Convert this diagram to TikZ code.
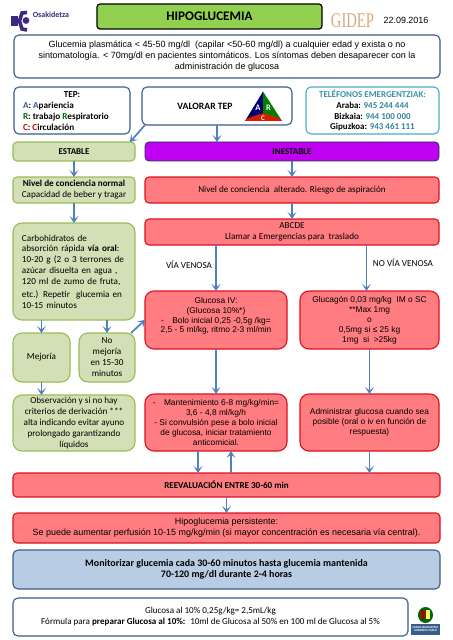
\documentclass[tikz,border=0pt]{standalone}
\usepackage{fontspec}
\setmainfont{Carlito}
\newfontfamily\arialfont{Liberation Sans}
\newfontfamily\timesfont{Liberation Serif}
\usetikzlibrary{arrows.meta,positioning,calc}
\definecolor{bluearrow}{HTML}{4F81BD}
\definecolor{navyline}{HTML}{385D8A}
\definecolor{leaf}{HTML}{D3DFB4}
\definecolor{leafline}{HTML}{9BBB59}
\definecolor{alert}{HTML}{FF7C80}
\definecolor{alertline}{HTML}{E01020}
\definecolor{tealline}{HTML}{4BACC6}
\definecolor{tealtext}{HTML}{31859C}
\definecolor{skyfill}{HTML}{B8CCE4}
\definecolor{osaki}{HTML}{3B2A7E}
\definecolor{titlegreen}{HTML}{92D050}
\definecolor{gidepcolor}{HTML}{D9A878}
\definecolor{purplefill}{HTML}{C000F0}
\begin{document}
\begin{tikzpicture}[x=1bp, y=-1bp, every node/.style={font=\fontsize{9.2}{11}\selectfont, text=black},
  boxsize/.style 2 args={minimum width=#1bp, minimum height=#2bp, inner sep=1bp, outer sep=0pt, align=center},
  whitebox/.style={draw=navyline, line width=1.1bp, rounded corners=5bp, fill=white},
  leafbox/.style={draw=leafline, line width=1.1bp, rounded corners=4bp, fill=leaf},
  alertbox/.style={draw=alertline, line width=1.1bp, rounded corners=4bp, fill=alert},
  roundbig/.style={rounded corners=9bp},
  arial/.style={font=\arialfont\fontsize{8.4}{10}\selectfont},
  arrow/.style={-{Stealth[length=7bp, width=9bp, inset=3.5bp]}, draw=bluearrow, line width=1.7bp}]
\useasboundingbox (0,0) rectangle (453,640);
\node[boxsize={225}{25}, draw=black, line width=1.2bp, rounded corners=3bp, fill=titlegreen, font=\bfseries\fontsize{13.2}{15}\selectfont] (title) at (209.5,16.5) {HIPOGLUCEMIA};
\node[font=\bfseries\fontsize{8}{9}\selectfont, text=osaki] (osakidetza) at (51,15) {Osakidetza};
\fill[osaki] (11,16.5) rectangle (18,26.5);
\draw[osaki, line width=3.6bp] (27,12.5) -- (22,13) -- (19.5,21) -- (22,29) -- (27,30);
\fill[osaki] (26,20.5) circle (3.4);
\node[font=\timesfont\fontsize{21}{21}\selectfont, text=gidepcolor] (gidep) at (352.5,21) {\scalebox{.7}[1]{GIDEP}};
\node[font=\arialfont\fontsize{9}{10}\selectfont] (fecha) at (406,20) {22.09.2016};
\node[whitebox, boxsize={426}{43}, font=\arialfont\fontsize{9.05}{11}\selectfont] (glucemia) at (227,56.5) {Glucemia plasmática < 45-50 mg/dl \ (capilar <50-60 mg/dl) a cualquier edad y exista o no\\sintomatología. < 70mg/dl en pacientes sintomáticos. Los síntomas deben desaparecer con la\\administración de glucosa};
\node[whitebox, boxsize={116}{47}] (tep) at (72,110.5) {};
\node (teptitle) at (72,94.5) {\bfseries TEP:};
\node[anchor=west, align=left] (teplist) at (19.5,116.5) {\bfseries\textcolor{navyline}{A}: \textcolor{navyline}{A}pariencia\\\bfseries\textcolor{green!40!black}{R}: trabajo \textcolor{green!40!black}{R}espiratorio\\\bfseries\textcolor{red!80!black}{C}: \textcolor{red!80!black}{C}irculación};
\node[whitebox, boxsize={150}{38}] (valorar) at (217,106) {};
\node[font=\bfseries\fontsize{9.7}{11}\selectfont] (valorartxt) at (205,106.5) {VALORAR TEP};
\fill[blue!45!black] (263,91.5) -- (245,121) -- (263,121) -- cycle;
\fill[green!50!black] (263,91.5) -- (282,121) -- (263,121) -- cycle;
\fill[red!75!orange!85!black] (263,113) -- (247,118.5) -- (245,121) -- (282,121) -- (280,118.5) -- cycle;
\node[font=\bfseries\fontsize{8.5}{9}\selectfont, text=white] (letraa) at (258,108) {A};
\node[font=\bfseries\fontsize{8.5}{9}\selectfont, text=white] (letrar) at (268.5,108) {R};
\node[font=\bfseries\fontsize{7}{8}\selectfont, text=white] (letrac) at (263,118) {C};
\node[whitebox, draw=tealline, boxsize={133}{47}, font=\fontsize{9}{11}\selectfont] (telefonos) at (372.5,110.5) {\bfseries\textcolor{tealtext!70!tealline}{TELÉFONOS EMERGENTZIAK:}\\\bfseries Araba: \textcolor{tealtext}{945 244 444}\\\bfseries Bizkaia: \textcolor{tealtext}{944 100 000}\\\bfseries Gipuzkoa: \textcolor{tealtext}{943 461 111}};
\node[leafbox, boxsize={122}{19}, font=\bfseries\fontsize{9}{10}\selectfont] (estable) at (74,151.5) {ESTABLE};
\node[leafbox, boxsize={122}{26}, below=16bp of estable] (normal) {\textbf{Nivel de conciencia normal}\\Capacidad de beber y tragar};
\node[leafbox, roundbig, boxsize={122}{97}, below=20bp of normal, align=left, text width=104bp] (carbo) {Carbohidratos de\\absorción rápida \textbf{vía oral}:\\10-20 g (2 o 3 terrones de\\azúcar disuelta en agua ,\\120 ml de zumo de fruta,\\[1.5bp]etc.) Repetir \ glucemia en\\10-15 minutos};
\node[leafbox, roundbig, boxsize={57}{49}, anchor=north west] (mejoria) at (13,333) {Mejoría};
\node[leafbox, roundbig, boxsize={56}{49}, anchor=north west] (nomejoria) at (79,333) {No\\mejoría\\en 15-30\\minutos};
\node[leafbox, roundbig, boxsize={122}{56}, anchor=north west] (observacion) at (13,395) {Observación y si no hay\\criterios de derivación ***\\alta indicando evitar ayuno\\prolongado garantizando\\líquidos};
\node[draw=navyline!60!black, line width=0.8bp, rounded corners=4bp, fill=purplefill, boxsize={294}{19}, font=\bfseries\fontsize{9}{10}\selectfont] (inestable) at (292,151.5) {\raisebox{-1.5bp}{INESTABLE}};
\node[alertbox, boxsize={294}{26}, below=16bp of inestable] (alterado) {Nivel de conciencia \ alterado. Riesgo de aspiración};
\node[alertbox, boxsize={294}{26}, below=16bp of alterado] (abcde) {ABCDE\\Llamar a Emergencias para \ traslado};
\node (viavenosa) at (189,265) {VÍA VENOSA};
\node (noviavenosa) at (403,263) {NO VÍA VENOSA};
\node[alertbox, roundbig, boxsize={142}{58}, anchor=north west, arial] (glucosaiv) at (145,291) {Glucosa IV:\\(Glucosa 10\%*)\\-\quad Bolo inicial 0,25 -0,5g /kg=\\2,5 - 5 ml/kg, ritmo 2-3 ml/min\\\mbox{}};
\node[alertbox, roundbig, boxsize={139}{58}, anchor=north west, arial] (glucagon) at (300,291) {Glucagón 0,03 mg/kg \ IM o SC\\**Max 1mg\\o\\0,5mg si ≤ 25 kg\\1mg \ si \ >25kg};
\node[alertbox, roundbig, boxsize={142}{57}, anchor=north west, arial] (mantenimiento) at (145,394) {-\quad Mantenimiento 6-8 mg/kg/min=\\3,6 - 4,8 ml/kg/h\\- Si convulsión pese a bolo inicial\\de glucosa, iniciar tratamiento\\anticomicial.};
\node[alertbox, roundbig, boxsize={139}{57}, anchor=north west, arial] (administrar) at (300,394) {Administrar glucosa cuando sea\\posible (oral o iv en función de\\respuesta)};
\node[alertbox, boxsize={427}{24}, anchor=north west, font=\bfseries\fontsize{9.1}{11}\selectfont] (reevaluacion) at (13,473) {REEVALUACIÓN ENTRE 30-60 min};
\node[alertbox, boxsize={427}{30}, below=16bp of reevaluacion, font=\arialfont\fontsize{9}{11}\selectfont] (persistente) {Hipoglucemia persistente:\\Se puede aumentar perfusión 10-15 mg/kg/min (si mayor concentración es necesaria vía central).};
\node[whitebox, fill=skyfill, boxsize={427}{39}, below=7bp of persistente, font=\bfseries\fontsize{10}{11}\selectfont] (monitorizar) {Monitorizar glucemia cada 30-60 minutos hasta glucemia mantenida\\70-120 mg/dl durante 2-4 horas};
\node[whitebox, boxsize={395}{38}, anchor=north west, font=\fontsize{9.1}{11}\selectfont] (formula) at (13,598) {Glucosa al 10\% 0,25g/kg= 2,5mL/kg\\Fórmula para \textbf{preparar Glucosa al 10\%:} \ 10ml de Glucosa al 50\% en 100 ml de Glucosa al 5\%};
\fill[green!40!black] (425.5,615) ellipse (7.5 and 8);
\fill[red!70!black] (421,610) rectangle (425,619);
\fill[yellow!60!white] (426,610) rectangle (430,619);
\node[fill=navyline, boxsize={29}{11}, font=\bfseries\fontsize{3}{3.6}\selectfont, text=white] (gobierno) at (425.5,629) {EUSKO JAURLARITZA\\GOBIERNO VASCO};
\draw[arrow] ($(valorar.south west)+(3,0)$) -- ($(estable.north east)+(-5,0)$);
\draw[arrow] (valorar.south) -- (valorar.south |- inestable.north);
\draw[arrow] (estable) -- (normal);
\draw[arrow] (normal) -- (carbo);
\draw[arrow] (carbo.south -| mejoria.north) -- (mejoria.north);
\draw[arrow] (carbo.south -| nomejoria.north) -- (nomejoria.north);
\draw[arrow] ($(nomejoria.north east)+(-4,0)$) -- ($(glucosaiv.south west)+(0,-29)$);
\draw[arrow] (mejoria.south) -- (mejoria.south |- observacion.north);
\draw[arrow] (inestable) -- (alterado);
\draw[arrow] (alterado) -- (abcde);
\draw[arrow] (abcde.south -| glucosaiv.north) -- (glucosaiv.north);
\draw[arrow] ($(abcde.south -| glucagon.north)+(-3,0)$) -- ($(glucagon.north)+(-3,0)$);
\draw[arrow] (glucosaiv) -- (mantenimiento);
\draw[arrow] (glucagon) -- (administrar);
\draw[arrow] ($(mantenimiento.south)+(-18,0)$) -- ($(mantenimiento.south |- reevaluacion.north)+(-18,0)$);
\draw[arrow] ($(mantenimiento.south |- reevaluacion.north)+(15,0)$) -- ($(mantenimiento.south)+(15,0)$);
\draw[arrow] (administrar.south) -- (administrar.south |- reevaluacion.north);
\draw[arrow] (reevaluacion) -- (persistente);
\end{tikzpicture}
\end{document}
